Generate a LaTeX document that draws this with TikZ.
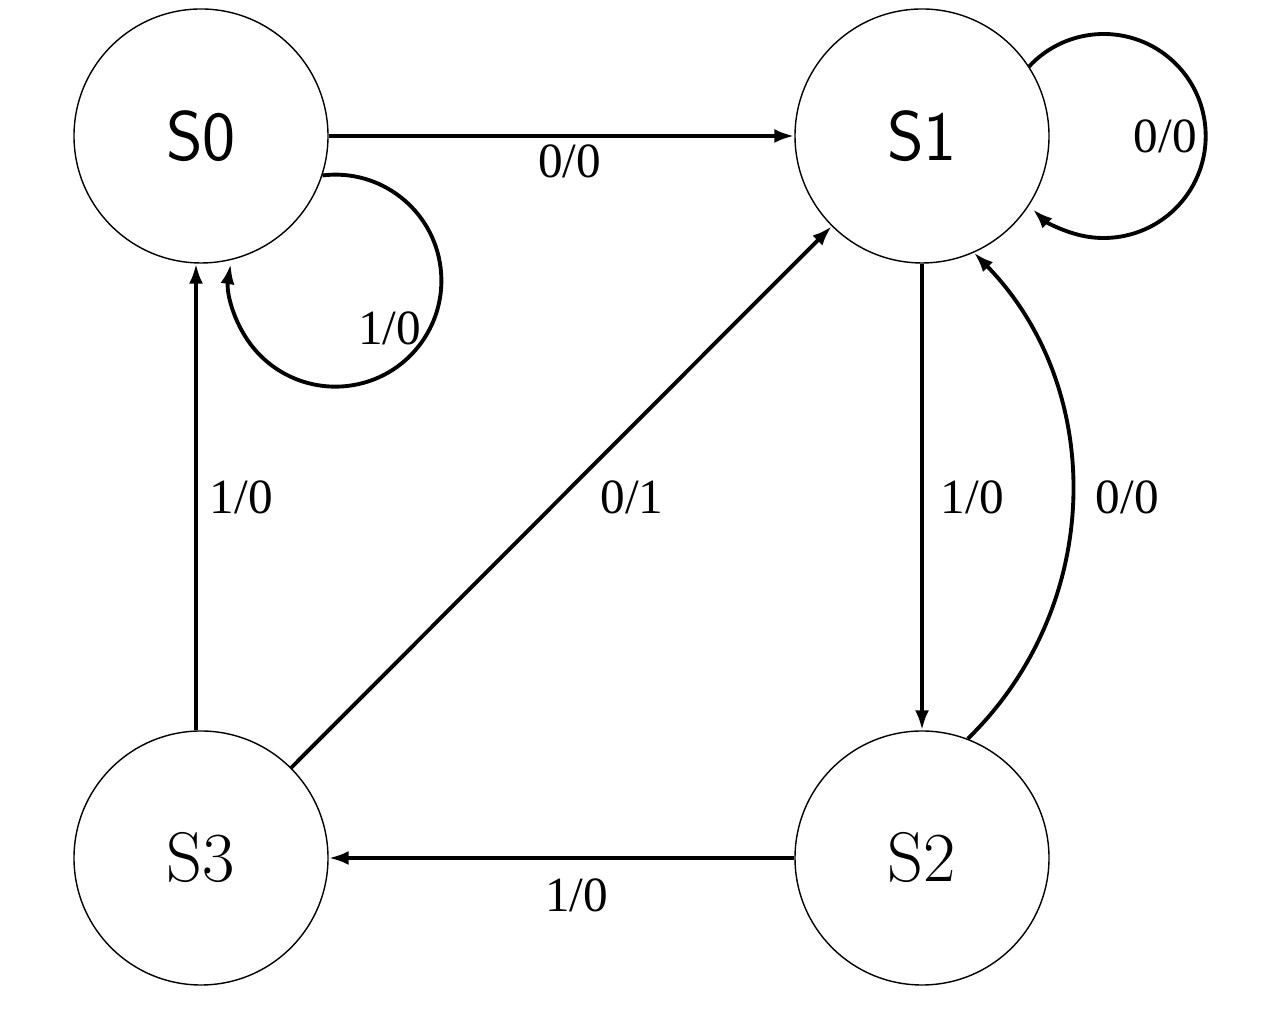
\documentclass[tikz,border=0pt]{standalone}
\usepackage{fontspec}
\newfontfamily\labfont{Liberation Serif}
\usepackage{tikz}
\usetikzlibrary{arrows.meta}
\usetikzlibrary{positioning}
\tikzset{state/.style={circle,draw=black,line width=0.4pt,minimum size=2.54cm,inner sep=0pt,font=\fontsize{20}{23}\selectfont}}
\tikzset{trans/.style={line width=1.1pt,-{Latex[length=2mm,width=1.4mm]}}}
\tikzset{lab/.style={font=\labfont\fontsize{14}{16}\selectfont,inner sep=2pt}}
\begin{document}
\begin{tikzpicture}
\useasboundingbox (0,0) rectangle (12.88,10.17);
\node (S0) at (2.01,8.81) [state] {\sffamily S0};
\node (S1) at (9.22,8.81) [state] {\sffamily S1};
\node (S2) at (9.22,1.59) [state] {S2};
\node (S3) at (2.01,1.59) [state] {S3};

\draw[trans] (S0) -- node[lab,below=0cm,xshift=0.08cm] {0/0} (S1);
\draw[trans] (S1) -- node[lab,right=0.1cm] {1/0} (S2);
\draw[trans] (S2) -- node[lab,below=0.12cm,xshift=0.15cm] {1/0} (S3);
\draw[trans] ([xshift=-0.05cm]S3.north) -- node[lab,right=0.05cm] {1/0} ([xshift=-0.05cm]S0.south);
\draw[trans] (S3.45) -- node[lab,right=0.3cm] {0/1} (S1.225);
\draw[trans] (S2.69) to[bend right=45] node[lab,right=0.15cm] {0/0} (S1.-66);
% self loops
\draw[trans] (S0.-18) arc[start angle=97,end angle=-189,radius=1.06]
  node[lab,pos=0.47,above left=0.05cm,xshift=0.14cm,yshift=-0.12cm] {1/0};
\draw[trans] (S1.33) arc[start angle=137,end angle=-134,radius=1.02]
  node[lab,pos=0.506,left=0.1cm,xshift=0.1cm] {0/0};
\end{tikzpicture}
\end{document}
